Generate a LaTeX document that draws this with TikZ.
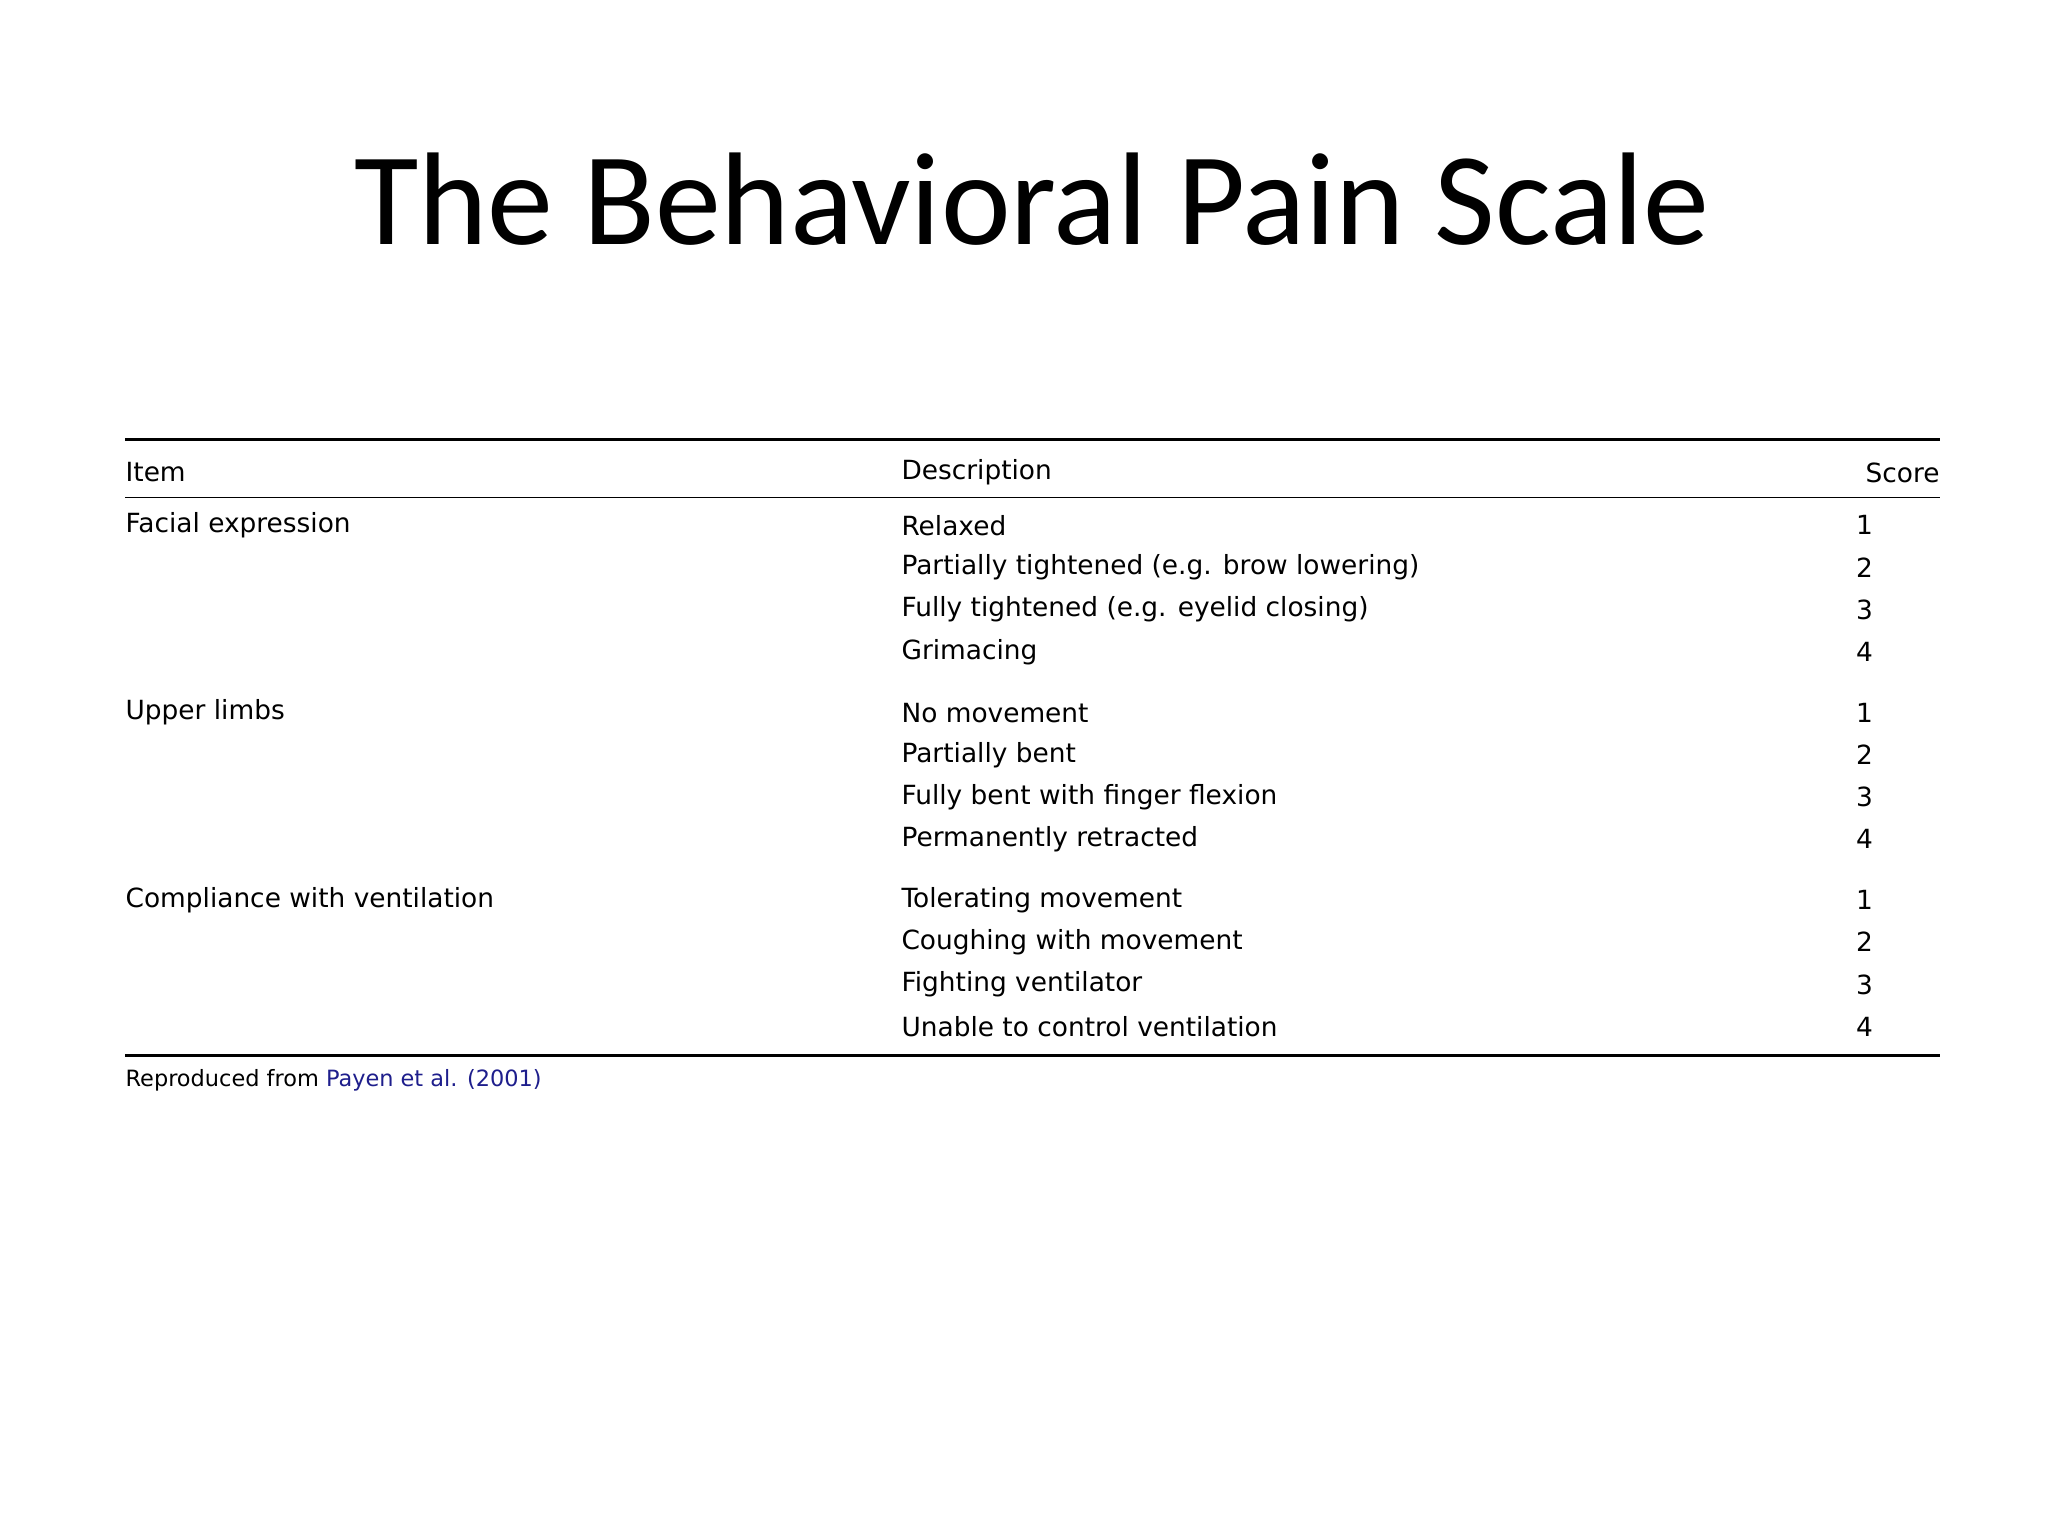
\documentclass[tikz,border=0pt]{standalone}
\usepackage{fontspec}
\setmainfont{Carlito}
\newfontfamily\tabfont{DejaVu Sans}
\definecolor{linkblue}{RGB}{30,30,140}
\begin{document}
\begin{tikzpicture}[x=1pt,y=-1pt,
  cell/.style={anchor=west,inner sep=0pt,font=\tabfont\fontsize{20}{24}\selectfont},
  rule/.style={line width=2pt}]
\useasboundingbox[fill=white] (0,0) rectangle (1552,1164);
\node[anchor=base,inner sep=0pt,font=\fontsize{100}{110}\selectfont] (title) at (782,185) {The Behavioral Pain Scale};
\coordinate (tl) at (95,333); \coordinate (tr) at (1470,333);
\coordinate (hl) at (95,377); \coordinate (hr) at (1470,377);
\coordinate (bl) at (95,800); \coordinate (br) at (1470,800);
\draw[rule] (tl) -- (tr);
\draw[line width=1.2pt] (hl) -- (hr);
\draw[rule] (bl) -- (br);
\node[cell] (h1) at (95,358) {Item};
\node[cell] (h2) at (683,358) {Description};
\node[cell,anchor=east] (h3) at (1470,358) {Score};
\node[cell] (i1) at (95,398) {Facial expression};
\node[cell] (i2) at (95,540) {Upper limbs};
\node[cell] (i3) at (95,682) {Compliance with ventilation};
\foreach \y/\d/\s [count=\k] in {
 398/Relaxed/1, 430/Partially tightened (e.g. brow lowering)/2, 462/Fully tightened (e.g. eyelid closing)/3, 494/Grimacing/4,
 540/No movement/1, 572/Partially bent/2, 604/Fully bent with finger flexion/3, 636/Permanently retracted/4,
 682/Tolerating movement/1, 714/Coughing with movement/2, 746/Fighting ventilator/3, 778/Unable to control ventilation/4}{
 \node[cell] (d\k) at (683,\y) {\d};
 \node[cell,anchor=center] (s\k) at (1413,\y) {\s};
}
\node[cell,font=\tabfont\fontsize{17}{20}\selectfont] (foot) at (95,819) {Reproduced from \textcolor{linkblue}{Payen et al. (2001)}};
\end{tikzpicture}
\end{document}
